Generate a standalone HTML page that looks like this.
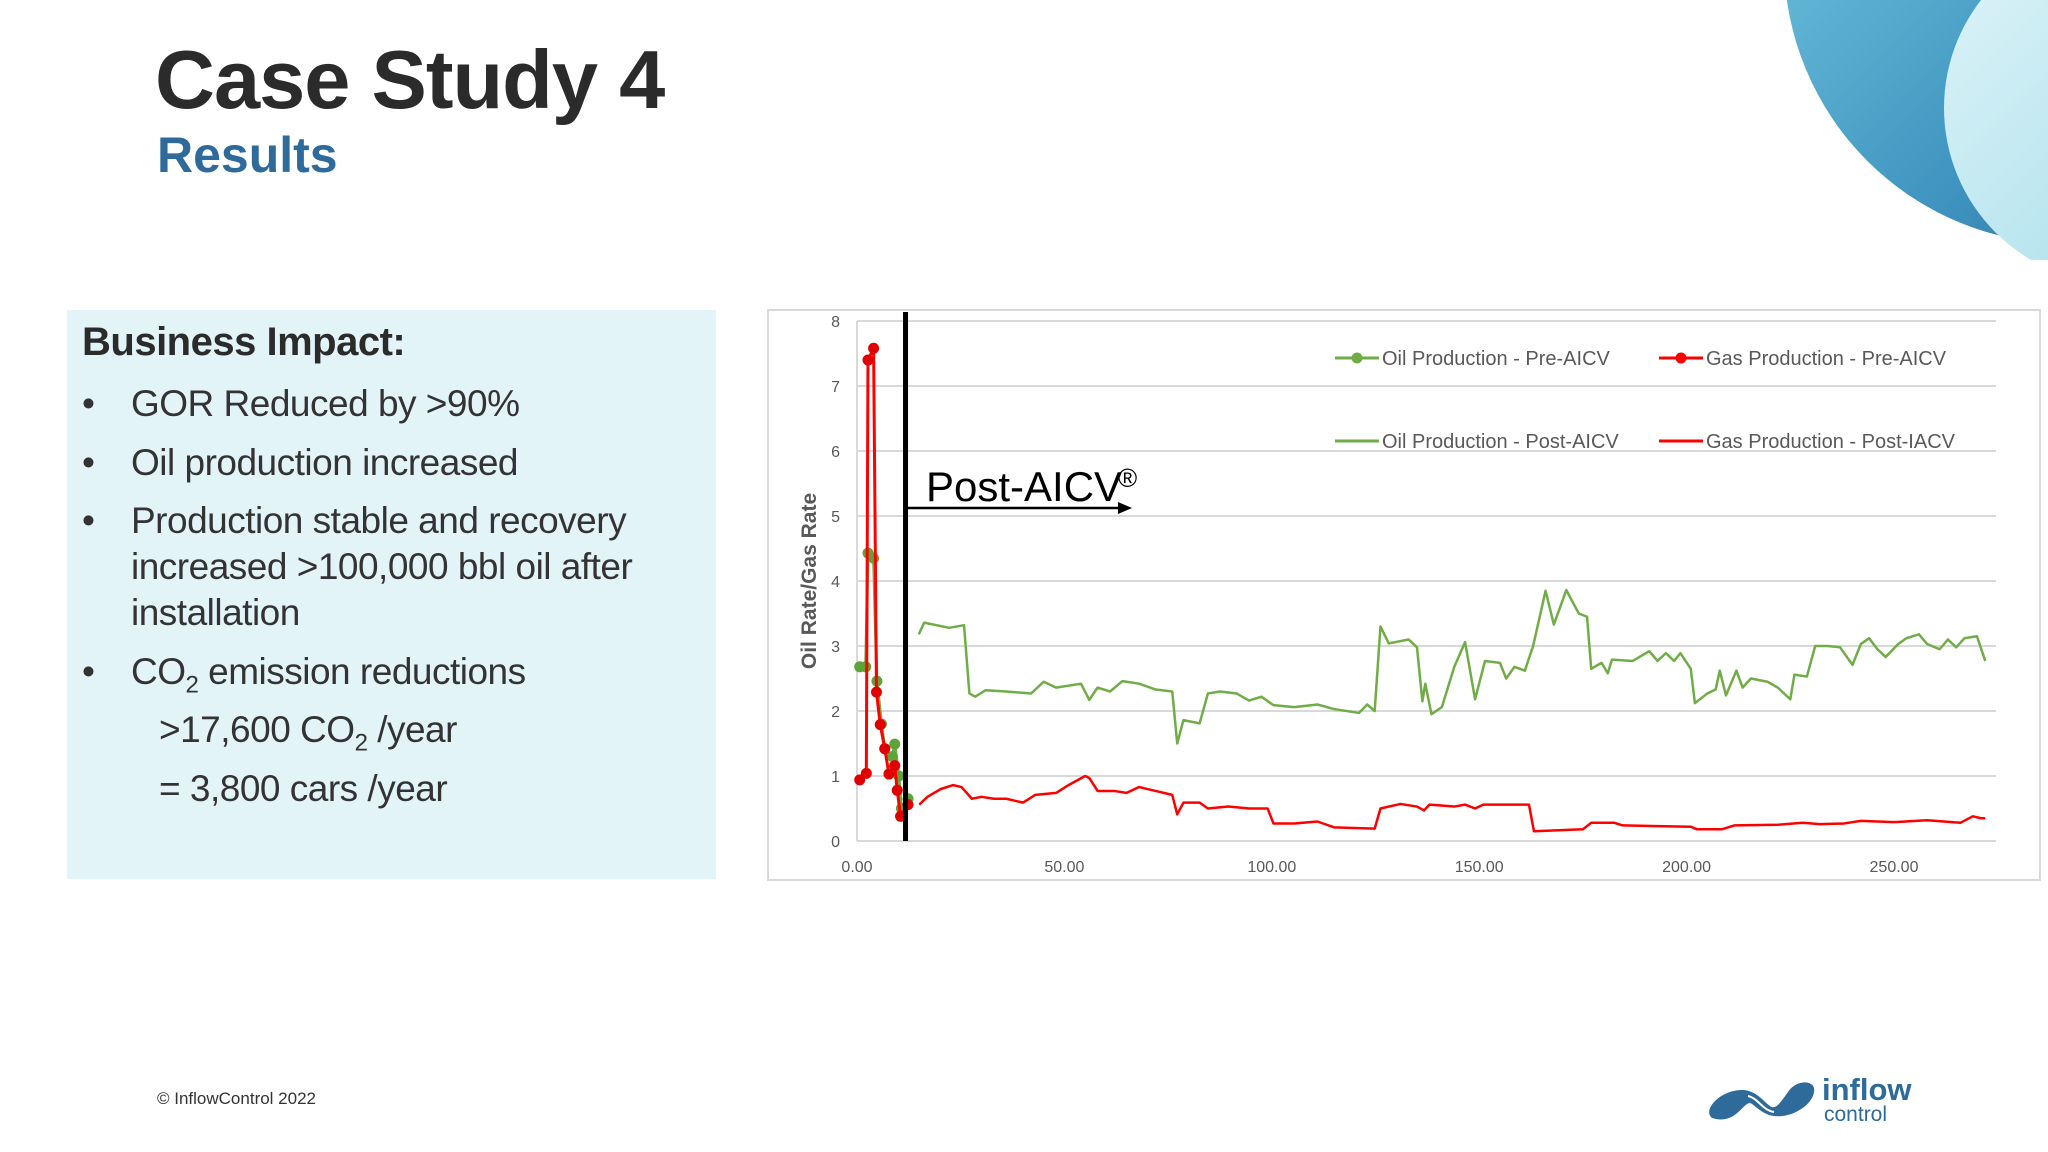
<!DOCTYPE html>
<html><head><meta charset="utf-8">
<style>
body{margin:0;width:2048px;height:1152px;overflow:hidden;background:#fff;font-family:"Liberation Sans",sans-serif;position:relative}
.abs{position:absolute;white-space:nowrap}
#title{left:155px;top:32px;font-size:83px;font-weight:bold;color:#2b2b2b;letter-spacing:-1px}
#sub{left:157px;top:126px;font-size:50px;font-weight:bold;color:#2e6a9a}
#box{left:67px;top:310px;width:649px;height:569px;background:#e3f4f8}
.bt{font-size:37px;color:#333;letter-spacing:-0.5px}
sub{font-size:24px}
</style></head><body>
<svg class="abs" style="left:0;top:0" width="2048" height="260">
<defs><linearGradient id="g1" x1="0" y1="0" x2="1" y2="1"><stop offset="0" stop-color="#7fd3e6"/><stop offset="0.6" stop-color="#3f94c0"/><stop offset="1" stop-color="#2a5f93"/></linearGradient>
<linearGradient id="g2" x1="0" y1="0" x2="1" y2="1"><stop offset="0" stop-color="#dff4f8"/><stop offset="1" stop-color="#9fdbe9"/></linearGradient></defs>
<circle cx="2068" cy="-40" r="284" fill="url(#g1)"/>
<circle cx="2120" cy="108" r="176" fill="url(#g2)"/>
</svg>
<div id="title" class="abs">Case Study 4</div>
<div id="sub" class="abs">Results</div>
<div id="box" class="abs"></div>
<div class="abs" style="left:82px;top:320px;font-size:40px;font-weight:bold;color:#2b2b2b;letter-spacing:-0.5px">Business Impact:</div>
<div class="abs bt" style="left:82px;top:383px">•</div>
<div class="abs bt" style="left:131px;top:383px">GOR Reduced by &gt;90%</div>
<div class="abs bt" style="left:82px;top:442px">•</div>
<div class="abs bt" style="left:131px;top:442px">Oil production increased</div>
<div class="abs bt" style="left:82px;top:500px">•</div>
<div class="abs bt" style="left:131px;top:500px">Production stable and recovery</div>
<div class="abs bt" style="left:131px;top:546px">increased &gt;100,000 bbl oil after</div>
<div class="abs bt" style="left:131px;top:592px">installation</div>
<div class="abs bt" style="left:82px;top:651px">•</div>
<div class="abs bt" style="left:131px;top:651px">CO<sub>2</sub> emission reductions</div>
<div class="abs bt" style="left:159px;top:709px">&gt;17,600 CO<sub>2</sub> /year</div>
<div class="abs bt" style="left:159px;top:768px">= 3,800 cars /year</div>
<div class="abs" style="left:157px;top:1089px;font-size:17px;color:#333">© InflowControl 2022</div>
<svg class="abs" style="left:1700px;top:1068px" width="240" height="60">
<path d="M12 50 C2 42 20 22 42 22 C56 22 64 34 70 38 C76 43 82 32 88 24 C96 12 112 12 114 20 C116 32 100 46 82 48 C66 50 58 40 52 36 C44 30 38 58 12 50Z" fill="#2e6a9a"/>
<path d="M48 28 C58 30 62 42 74 44" stroke="#fff" stroke-width="2" fill="none"/>
<text x="122" y="32" font-family="Liberation Sans" font-size="31" font-weight="bold" fill="#2e6a9a">inflow</text>
<text x="124" y="53" font-family="Liberation Sans" font-size="21" fill="#2e6a9a">control</text>
</svg>
<svg id="chart" class="abs" style="left:0;top:0" width="2048" height="1152"></svg>
<script>
const yTicks=[0,1,2,3,4,5,6,7,8];
const xTicks=[0,50,100,150,200,250];
const xTickLabels=["0.00","50.00","100.00","150.00","200.00","250.00"];
const preOilX=[0.65,2.1,2.65,4,4.8,5.9,6.7,8.5,9.1,10.1,10.7,12.3];
const preOilY=[2.68,2.68,4.43,4.35,2.46,1.8,1.42,1.3,1.49,1.0,0.5,0.65];
const preGasX=[0.65,2.25,2.65,4,4.7,5.6,6.7,7.7,9.1,9.7,10.5,12.3];
const preGasY=[0.94,1.04,7.4,7.58,2.29,1.79,1.42,1.03,1.16,0.78,0.38,0.56];
const postOilX=[14.9,16.2,22.2,25.8,27.1,28.5,31,36,42,45,48,54,56,58,61,64,68,72,76,77.2,78.7,82.6,84.6,87.6,91.5,94.5,97.5,100.4,105.4,111,115,121,123,124.8,126.2,128.2,133,135,136.3,137,138.5,141,144,146.6,149,151.4,155,156.5,158.5,161,163,166,168,171,174,176,177,179.5,181,182,187,191,193,195,197,198.5,201,202,205,207,208,209.5,212,213.5,215.5,219.5,222,225,226,229,231,234,237,240,242,244,246,248,251,253,256,258,261,263,265,267,270,272];
const postOilY=[3.18,3.36,3.28,3.32,2.27,2.22,2.32,2.3,2.27,2.45,2.36,2.42,2.17,2.36,2.3,2.46,2.42,2.33,2.3,1.5,1.86,1.81,2.27,2.3,2.27,2.16,2.22,2.09,2.06,2.1,2.03,1.97,2.1,2.0,3.3,3.04,3.1,2.98,2.15,2.42,1.95,2.06,2.68,3.06,2.18,2.77,2.74,2.5,2.68,2.62,3.0,3.85,3.33,3.86,3.5,3.45,2.65,2.74,2.58,2.79,2.77,2.92,2.77,2.89,2.77,2.89,2.65,2.12,2.27,2.33,2.62,2.24,2.62,2.36,2.5,2.45,2.36,2.18,2.56,2.53,3.0,3.0,2.98,2.71,3.03,3.12,2.95,2.83,3.03,3.12,3.18,3.03,2.95,3.1,2.98,3.12,3.15,2.77];
const postGasX=[15,17,20.2,23.2,25.2,27.7,30,33,36,40,43,48,51,55,56,58,62,65,68,72,76,77.2,78.7,82.6,84.6,89.5,94.5,99,100.4,105.4,111,115,124.8,126.2,131,135,136.7,138,144,146.6,149,151,162,163.2,167,175,177,182.6,184.6,201,202.5,208.5,211.5,222,228,232,238,242,250,258,266,269,271,272];
const postGasY=[0.56,0.68,0.8,0.86,0.83,0.65,0.68,0.65,0.65,0.59,0.71,0.74,0.86,1.0,0.97,0.77,0.77,0.74,0.83,0.77,0.71,0.41,0.59,0.59,0.5,0.53,0.5,0.5,0.27,0.27,0.3,0.21,0.19,0.5,0.57,0.53,0.47,0.56,0.53,0.56,0.5,0.56,0.56,0.15,0.16,0.18,0.28,0.28,0.24,0.22,0.18,0.18,0.24,0.25,0.28,0.26,0.27,0.31,0.29,0.32,0.28,0.38,0.35,0.35];
const installDay=11.7;

const NS="http://www.w3.org/2000/svg";
const svg=document.getElementById('chart');
const X0=857,XPU=(1894-857)/250,Y0=841,YPU=(841-321)/8,XR=1996;
const sx=v=>X0+v*XPU, sy=v=>Y0-v*YPU;
function mk(tag,attrs,parent){const e=document.createElementNS(NS,tag);for(const k in attrs)e.setAttribute(k,attrs[k]);(parent||svg).appendChild(e);return e;}
const frame=mk('rect',{x:768,y:310,width:1272,height:570,fill:'none',stroke:'#d9d9d9','stroke-width':2});


yTicks.forEach(t=>{
  const g=mk('line',{x1:X0,x2:XR,y1:sy(t),y2:sy(t),stroke:'#d9d9d9','stroke-width':2});
  
  
  const l=mk('text',{x:840,y:sy(t)+6,'text-anchor':'end','font-size':16,fill:'#595959','font-family':'Liberation Sans'});
  l.textContent=t;
  
  
});
const ya=mk('line',{x1:X0,x2:X0,y1:sy(8),y2:Y0,stroke:'#d9d9d9','stroke-width':2});


xTicks.forEach((t,i)=>{
  const l=mk('text',{x:sx(t),y:872,'text-anchor':'middle','font-size':16,fill:'#595959','font-family':'Liberation Sans'});
  l.textContent=xTickLabels[i];
  
  
});
const yt=mk('text',{x:0,y:0,transform:'translate(816,581) rotate(-90)','text-anchor':'middle','font-size':21,'font-weight':'bold',fill:'#595959','font-family':'Liberation Sans'});
yt.textContent='Oil Rate/Gas Rate';


function line(xs,ys,color,name,w){
  const p=mk('polyline',{points:xs.map((x,i)=>sx(x)+','+sy(ys[i])).join(' '),fill:'none',stroke:color,'stroke-width':w,'stroke-linejoin':'round'});
  
  
}
function dots(xs,ys,color,name){
  xs.forEach((x,i)=>{const c=mk('circle',{cx:sx(x),cy:sy(ys[i]),r:5.5,fill:color});
  
  });
}
line(postOilX,postOilY,'#70ad47','oil-post-line',2.5);
line(postGasX,postGasY,'#ff0000','gas-post-line',2.5);
line(preOilX,preOilY,'#70ad47','oil-pre-line',3);
dots(preOilX,preOilY,'#5ea33a','oil-pre-point');
line(preGasX,preGasY,'#ff0000','gas-pre-line',3);
dots(preGasX,preGasY,'#e00000','gas-pre-point');
const vl=mk('line',{x1:sx(installDay),x2:sx(installDay),y1:312,y2:841,stroke:'#000','stroke-width':5});


const ar=mk('line',{x1:sx(installDay),x2:1122,y1:508,y2:508,stroke:'#000','stroke-width':2.5});


const ah=mk('polygon',{points:'1132,508 1118,502 1118,514',fill:'#000'});


const pt=mk('text',{x:926,y:501,'font-size':42,fill:'#000','font-family':'Liberation Sans'});
pt.textContent='Post-AICV';


const rg=mk('text',{x:1118,y:487,'font-size':26,fill:'#000','font-family':'Liberation Sans'});
rg.textContent='®';


const leg=[[1335,358,'#70ad47',true,'Oil Production - Pre-AICV'],[1659,358,'#ff0000',true,'Gas Production - Pre-AICV'],[1335,441,'#70ad47',false,'Oil Production - Post-AICV'],[1659,441,'#ff0000',false,'Gas Production - Post-IACV']];
leg.forEach(d=>{
  const g=mk('g',{});
  
  
  mk('line',{x1:d[0],x2:d[0]+44,y1:d[1],y2:d[1],stroke:d[2],'stroke-width':3},g);
  if(d[3])mk('circle',{cx:d[0]+22,cy:d[1],r:5.5,fill:d[2]},g);
  const t=mk('text',{x:d[0]+47,y:d[1]+7,'font-size':20,fill:'#595959','font-family':'Liberation Sans'},g);
  t.textContent=d[4];
});
</script>
</body></html>
